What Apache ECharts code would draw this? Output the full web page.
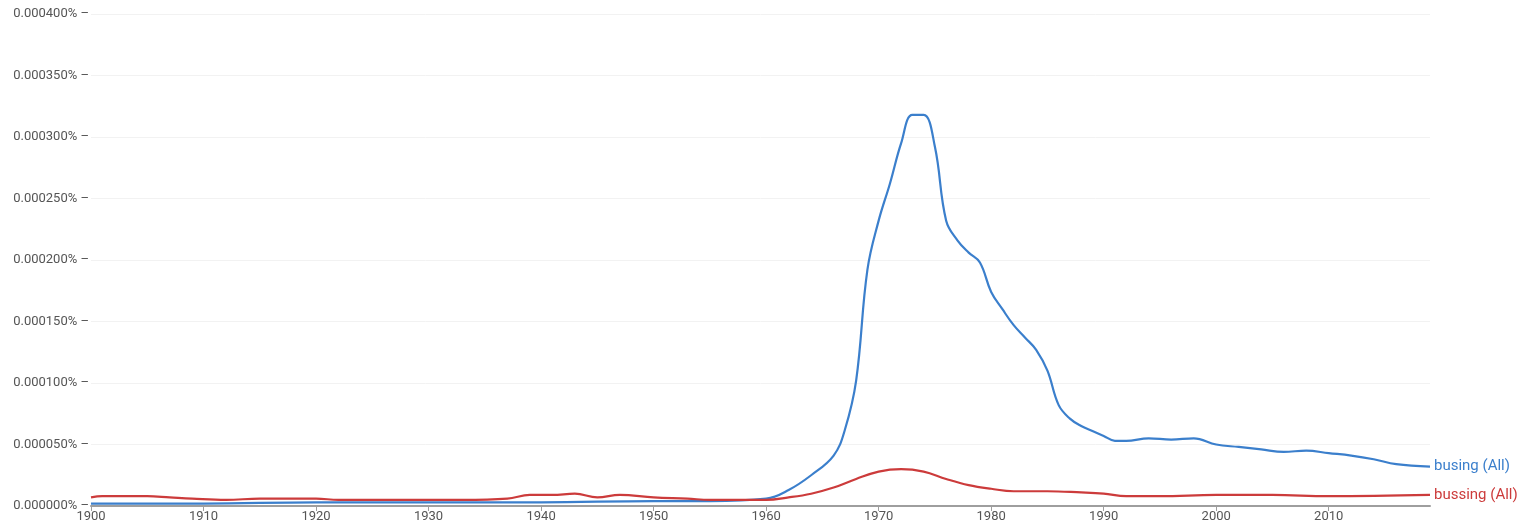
<html>
<head>
    <meta charset="utf-8">
    <title>busing vs bussing</title>
    <style type="text/css">
        body { margin: 0; background: #fff; }
        #chart { width: 1536px; height: 530px; }
    </style>
</head>
<body>
    <div id="chart"></div>
</body>
</html>

<script src="https://cdn.jsdelivr.net/npm/echarts@6/dist/echarts.min.js"></script>
<script>

    // values in millionths of a percent (1 = 0.000001%)
    var busingYears = [1900, 1910, 1920, 1930, 1940, 1950, 1955, 1960, 1962, 1964, 1966, 1967, 1968, 1969, 1970, 1971, 1972, 1973, 1974, 1975, 1976, 1977, 1978, 1979, 1980, 1981, 1982, 1983, 1984, 1985, 1986, 1987, 1988, 1989, 1990, 1991, 1992, 1994, 1996, 1998, 2000, 2002, 2004, 2006, 2008, 2010, 2012, 2014, 2016, 2019];
    var busingValues = [2, 2, 3, 3, 3, 4, 4, 6, 13, 25, 41, 62, 102, 192, 232, 262, 295, 318, 318, 292, 232, 216, 206, 198, 174, 160, 147, 137, 127, 110, 82, 71, 65, 61, 57, 53, 53, 55, 54, 55, 50, 48, 46, 44, 45, 43, 41, 38, 34, 32];

    var bussingYears = [1900, 1901, 1905, 1907, 1909, 1912, 1915, 1920, 1922, 1925, 1930, 1933, 1937, 1939, 1941, 1943, 1945, 1947, 1950, 1953, 1955, 1960, 1962, 1964, 1966, 1968, 1970, 1972, 1974, 1976, 1978, 1980, 1982, 1985, 1988, 1990, 1992, 1995, 2000, 2005, 2010, 2019];
    var bussingValues = [7, 8, 8, 7, 6, 5, 6, 6, 5, 5, 5, 5, 6, 9, 9, 10, 7, 9, 7, 6, 5, 5, 7, 10, 15, 22, 28, 30, 28, 22, 17, 14, 12, 12, 11, 10, 8, 8, 9, 9, 8, 9];

    function pairs(xs, ys) {
        var out = [];
        for (var i = 0; i < xs.length; i++) {
            out.push([xs[i], ys[i]]);
        }
        return out;
    }

    var chart = echarts.init(document.getElementById('chart'));

    var option = {
        animation: false,
        textStyle: { fontFamily: 'Roboto' },
        grid: { left: 91, right: 106, top: 14, bottom: 24 },
        xAxis: {
            type: 'value',
            min: 1900,
            max: 2019,
            interval: 10,
            axisLine: { lineStyle: { color: '#9e9e9e', width: 2 } },
            axisTick: { show: true, length: 5, lineStyle: { color: '#9e9e9e' } },
            axisLabel: {
                color: '#555',
                fontSize: 13,
                margin: 4,
                showMaxLabel: false,
                formatter: function (v) { return String(v); }
            },
            splitLine: { show: false }
        },
        yAxis: {
            type: 'value',
            min: 0,
            max: 400,
            interval: 50,
            axisLine: { show: false },
            axisTick: { show: false },
            axisLabel: {
                color: '#555',
                fontSize: 13,
                margin: 2,
                formatter: function (v) { return (v / 1e6).toFixed(6) + '% –'; }
            },
            splitLine: { lineStyle: { color: '#f2f2f2' } }
        },
        series: [{
            name: 'busing (All)',
            type: 'line',
            smooth: 0.4,
            showSymbol: false,
            data: pairs(busingYears, busingValues),
            lineStyle: { color: '#3b7fcc', width: 2.2 },
            itemStyle: { color: '#3b7fcc' },
            endLabel: { show: true, formatter: '{a}', color: '#3b7fcc', fontSize: 15, distance: 4 }
        }, {
            name: 'bussing (All)',
            type: 'line',
            smooth: 0.4,
            showSymbol: false,
            data: pairs(bussingYears, bussingValues),
            lineStyle: { color: '#cc3b3b', width: 2.2 },
            itemStyle: { color: '#cc3b3b' },
            endLabel: { show: true, formatter: '{a}', color: '#cc3b3b', fontSize: 15, distance: 4 }
        }]
    };

    chart.setOption(option);

</script>
